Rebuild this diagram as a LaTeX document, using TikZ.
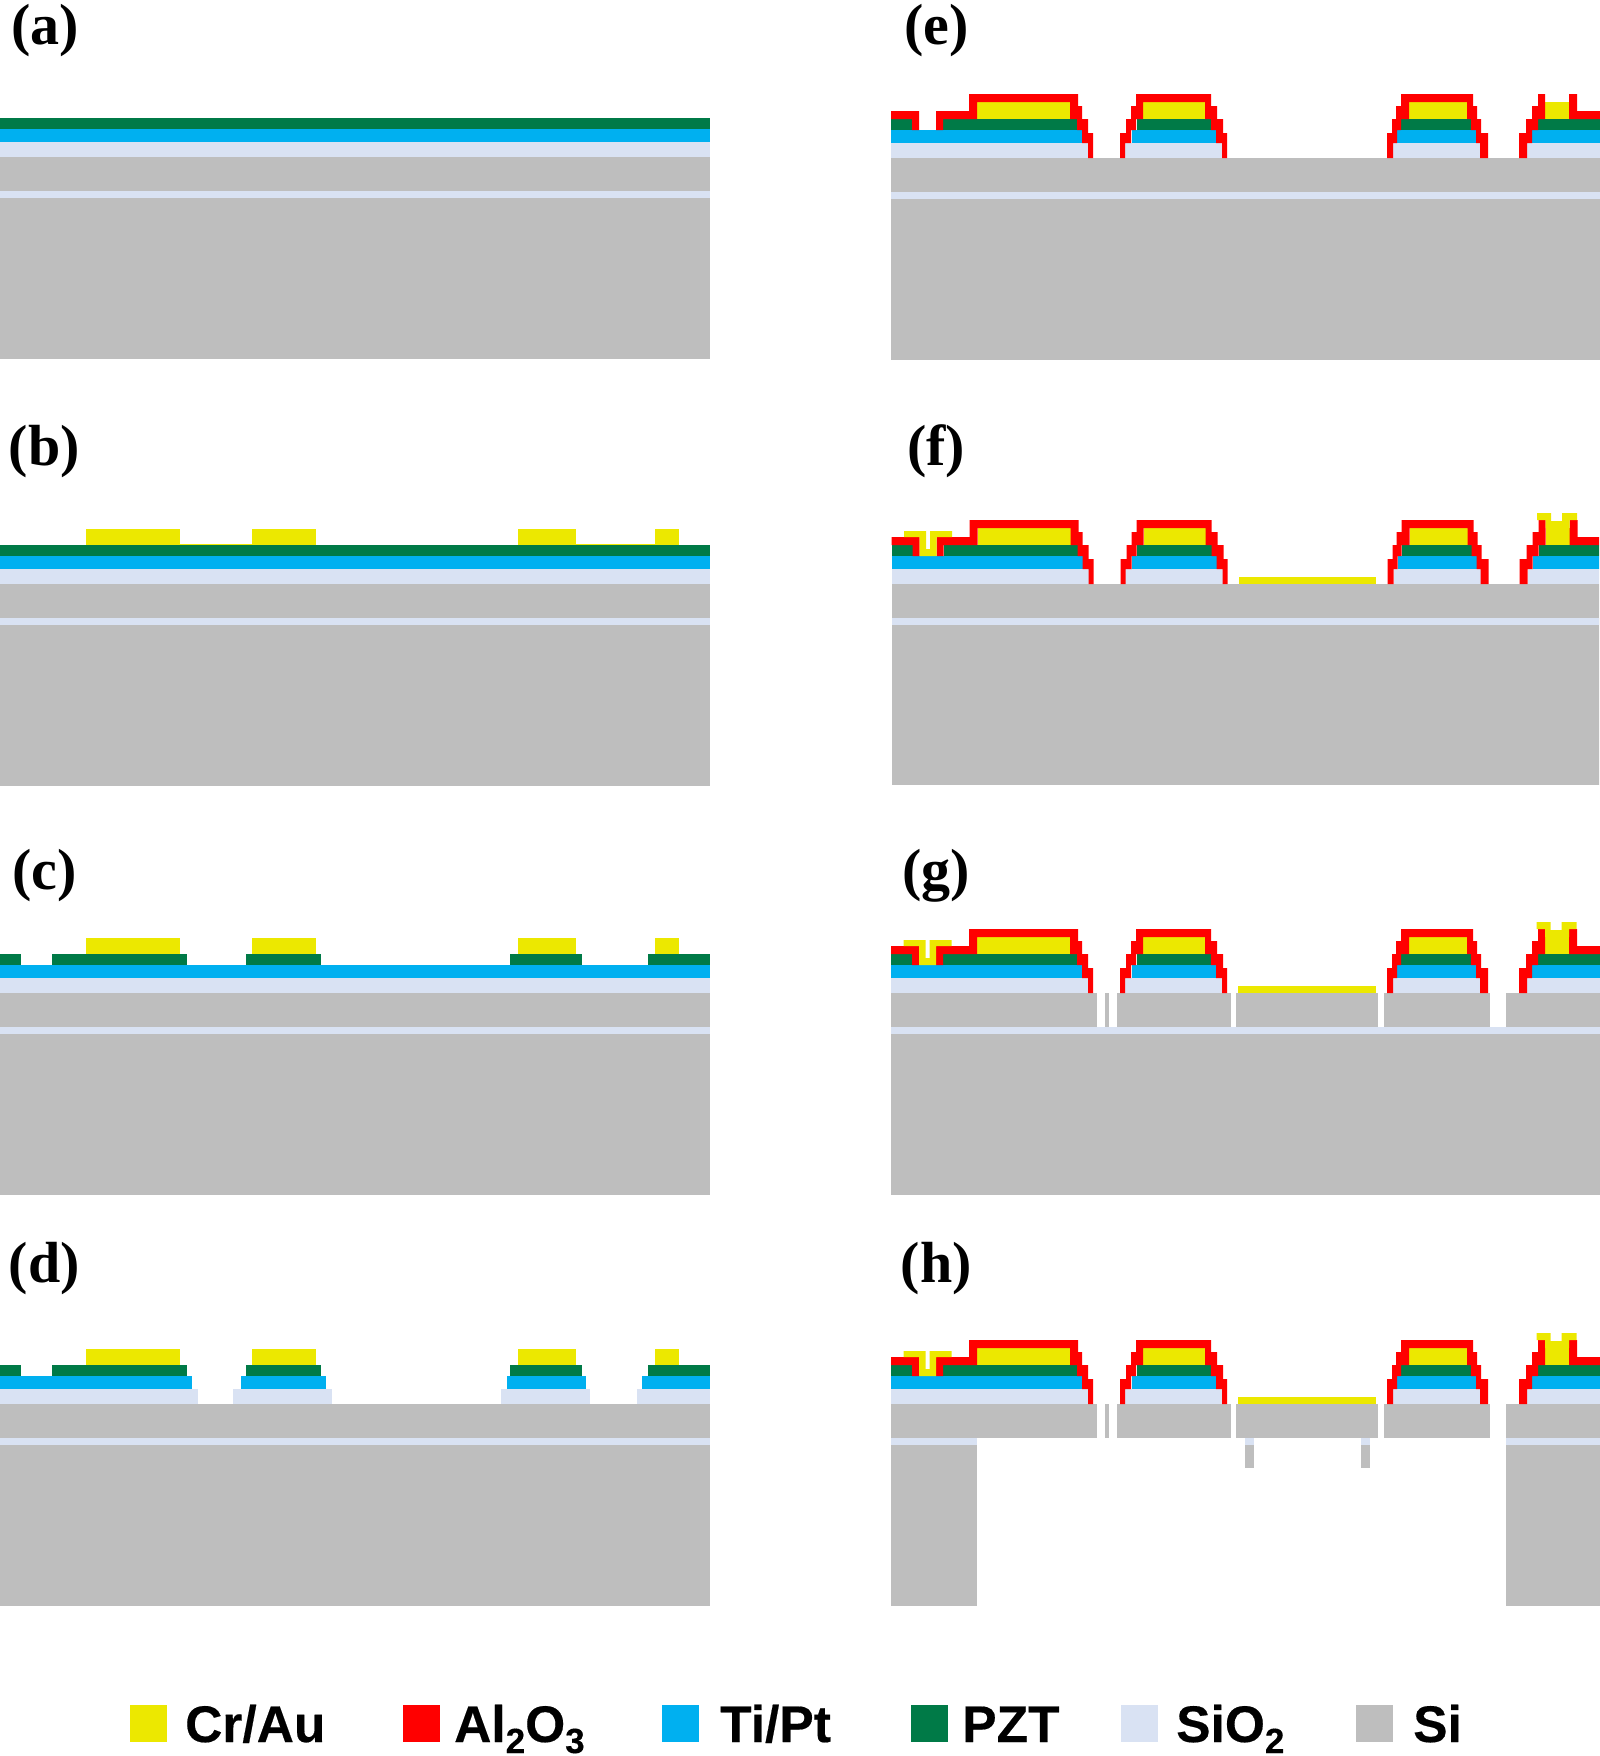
\documentclass[tikz,border=0pt]{standalone}
\usepackage{fontspec}
\setmainfont{Liberation Serif}
\newfontfamily\legfont{Liberation Sans}[BoldFont={Liberation Sans Bold},BoldFeatures={FakeBold=0.35}]
\definecolor{cau}{HTML}{ECE800}
\definecolor{alo}{HTML}{FF0000}
\definecolor{tipt}{HTML}{00B0F0}
\definecolor{pzt}{HTML}{007A47}
\definecolor{sio}{HTML}{D9E2F3}
\definecolor{sil}{HTML}{BEBEBE}
\tikzset{
  panellabel/.style={anchor=base west,inner sep=0pt,font=\fontsize{58}{58}\selectfont\bfseries},
  legendtext/.style={anchor=base west,inner sep=0pt,font=\legfont\fontsize{51.5}{51.5}\selectfont\bfseries},
  swatch/.style={minimum width=37pt,minimum height=37pt,inner sep=0pt,anchor=north west,draw=none}
}
% rectangle in the current panel: colour, x1, y1, x2, y2 (y relative to Si top)
\newcommand{\bx}[5]{\fill[#1] (#2,#3) rectangle (#4,#5);}
% base of a panel: Si, thin SiO2, Si, across the panel width
\newcommand{\basewafer}[3]{%
  \bx{sil}{#1}{0}{#2}{#3}%
  \bx{sio}{#1}{34}{#2}{41}}
% left panels
\newcommand{\yellowpads}{%
  \bx{cau}{86}{-55}{180}{-39}\bx{cau}{251.5}{-55}{316}{-39}%
  \bx{cau}{518}{-55}{575.5}{-39}\bx{cau}{654.5}{-55}{679}{-39}}
\newcommand{\greenpads}{%
  \bx{pzt}{0}{-39}{21}{-28}\bx{pzt}{52}{-39}{187}{-28}%
  \bx{pzt}{245.5}{-39}{321}{-28}\bx{pzt}{510}{-39}{582}{-28}\bx{pzt}{648}{-39}{710}{-28}}
% right panels: layer stacks and Al2O3 shell
\newcommand{\rightstack}{%
  \bx{sio}{891}{-15}{1088}{0}\bx{sio}{1124.5}{-15}{1222}{0}\bx{sio}{1393}{-15}{1480}{0}\bx{sio}{1527}{-15}{1600}{0}%
  \bx{tipt}{891}{-28}{1082}{-15}\bx{tipt}{1131.5}{-28}{1216}{-15}\bx{tipt}{1397}{-28}{1476}{-15}\bx{tipt}{1532}{-28}{1600}{-15}%
  \bx{pzt}{891}{-39}{912}{-28}\bx{pzt}{943}{-39}{1078}{-28}\bx{pzt}{1136.5}{-39}{1211}{-28}\bx{pzt}{1401}{-39}{1471}{-28}\bx{pzt}{1538}{-39}{1600}{-28}%
  \bx{cau}{977}{-56}{1070}{-39}\bx{cau}{1143}{-56}{1205}{-39}\bx{cau}{1409}{-56}{1467}{-39}\bx{cau}{1545}{-56}{1569}{-39}%
  \fill[alo] (891,-47)--(919,-47)--(919,-28)--(912,-28)--(912,-39)--(891,-39)--cycle;
  \fill[alo] (936,-28)--(936,-47)--(969,-47)--(969,-64)--(1078,-64)--(1078,-52)--(1082,-52)--(1082,-39)--(1088,-39)--(1088,-25)--(1093,-25)--(1093,0)--(1088,0)--(1088,-15)--(1082,-15)--(1082,-28)--(1077,-28)--(1077,-39)--(1070,-39)--(1070,-56)--(977,-56)--(977,-39)--(943,-39)--(943,-28)--cycle;
  \fill[alo] (1120,0)--(1120,-25)--(1126,-25)--(1126,-39)--(1131,-39)--(1131,-52)--(1136,-52)--(1136,-64)--(1211,-64)--(1211,-52)--(1217,-52)--(1217,-39)--(1223,-39)--(1223,-25)--(1227,-25)--(1227,0)--(1222,0)--(1222,-15)--(1216,-15)--(1216,-28)--(1211,-28)--(1211,-39)--(1205,-39)--(1205,-56)--(1143,-56)--(1143,-39)--(1136,-39)--(1136,-28)--(1131,-28)--(1131,-15)--(1125,-15)--(1125,0)--cycle;
  \fill[alo] (1387,0)--(1387,-25)--(1392,-25)--(1392,-39)--(1396,-39)--(1396,-52)--(1401,-52)--(1401,-64)--(1473,-64)--(1473,-52)--(1477,-52)--(1477,-39)--(1481,-39)--(1481,-25)--(1488,-25)--(1488,0)--(1480,0)--(1480,-15)--(1476,-15)--(1476,-28)--(1471,-28)--(1471,-39)--(1467,-39)--(1467,-56)--(1409,-56)--(1409,-39)--(1401,-39)--(1401,-28)--(1397,-28)--(1397,-15)--(1393,-15)--(1393,0)--cycle;
  \fill[alo] (1519,0)--(1519,-25)--(1526,-25)--(1526,-39)--(1532,-39)--(1532,-52)--(1538,-52)--(1538,-64)--(1545,-64)--(1545,-39)--(1538,-39)--(1538,-28)--(1532,-28)--(1532,-15)--(1527,-15)--(1527,0)--cycle;
  \fill[alo] (1569,-64)--(1577,-64)--(1577,-47)--(1600,-47)--(1600,-39)--(1569,-39)--cycle;}
% gold added in panels f, g, h
\newcommand{\goldextras}{%
  \fill[cau] (903.5,-53)--(925.5,-53)--(925.5,-35)--(929.5,-35)--(929.5,-53)--(951.5,-53)--(951.5,-47)--(936,-47)--(936,-28)--(919,-28)--(919,-47)--(903.5,-47)--cycle;
  \fill[cau] (1536.5,-71)--(1550.5,-71)--(1550.5,-63)--(1561.5,-63)--(1561.5,-71)--(1576.5,-71)--(1576.5,-64)--(1569,-64)--(1569,-56)--(1545,-56)--(1545,-64)--(1536.5,-64)--cycle;
  \bx{cau}{1238}{-7}{1375.5}{0}}
% trenched Si device layer for panels g, h
\newcommand{\siblocks}{%
  \bx{sil}{891}{0}{1097}{34}\bx{sil}{1104.5}{0}{1108.5}{34}\bx{sil}{1116.5}{0}{1231}{34}%
  \bx{sil}{1236}{0}{1378}{34}\bx{sil}{1383.5}{0}{1490}{34}\bx{sil}{1506}{0}{1600}{34}}
\begin{document}
\begin{tikzpicture}[x=1pt,y=-1pt]
\useasboundingbox (0,0) rectangle (1600,1756);
% (a)
\begin{scope}[shift={(0,157)}]
  \basewafer{0}{710}{201.5}
  \bx{sio}{0}{-15}{710}{0}\bx{tipt}{0}{-28}{710}{-15}\bx{pzt}{0}{-39}{710}{-28}
\end{scope}
% (b)
\begin{scope}[shift={(0,584)}]
  \basewafer{0}{709.5}{201.5}
  \bx{sio}{0}{-15}{709.5}{0}\bx{tipt}{0}{-28}{709.5}{-15}\bx{pzt}{0}{-39}{709.5}{-28}
  \yellowpads
  \bx{cau}{180}{-40}{252}{-39}\bx{cau}{575.5}{-40}{655}{-39}
\end{scope}
% (c)
\begin{scope}[shift={(0,993)}]
  \basewafer{0}{710}{202}
  \bx{sio}{0}{-15}{710}{0}\bx{tipt}{0}{-28}{710}{-15}
  \greenpads\yellowpads
\end{scope}
% (d)
\begin{scope}[shift={(0,1404)}]
  \basewafer{0}{710}{202}
  \bx{sio}{0}{-15}{197.5}{0}\bx{sio}{233}{-15}{332}{0}\bx{sio}{501}{-15}{590}{0}\bx{sio}{636.5}{-15}{710}{0}
  \bx{tipt}{0}{-28}{191.5}{-15}\bx{tipt}{241}{-28}{326}{-15}\bx{tipt}{506.5}{-28}{586}{-15}\bx{tipt}{642}{-28}{710}{-15}
  \greenpads\yellowpads
\end{scope}
% (e)
\begin{scope}[shift={(0,158)}]
  \basewafer{891}{1600}{201.5}
  \rightstack
\end{scope}
% (f)
\begin{scope}
  \clip (891,400) rectangle (1599,800);
  \begin{scope}[shift={(0.6,584)}]
    \basewafer{891}{1600}{200.5}
    \rightstack\goldextras
  \end{scope}
\end{scope}
% (g)
\begin{scope}[shift={(0,993)}]
  \siblocks
  \bx{sio}{891}{34}{1600}{41}\bx{sil}{891}{41}{1600}{201.5}
  \rightstack\goldextras
\end{scope}
% (h)
\begin{scope}[shift={(0,1404)}]
  \siblocks
  \bx{sio}{891}{34}{977}{41}\bx{sil}{891}{41}{977}{201.5}
  \bx{sio}{1506}{34}{1600}{41}\bx{sil}{1506}{41}{1600}{201.5}
  \bx{sio}{1245}{34}{1254}{41}\bx{sil}{1245}{41}{1254}{64}
  \bx{sio}{1361}{34}{1370}{41}\bx{sil}{1361}{41}{1370}{64}
  \rightstack\goldextras
\end{scope}
% panel labels
\node[panellabel] (la) at (11,44) {(a)};
\node[panellabel] (lb) at (8.5,465) {(b)};
\node[panellabel] (lc) at (12,889) {(c)};
\node[panellabel] (ld) at (8.5,1282) {(d)};
\node[panellabel] (le) at (904,44) {(e)};
\node[panellabel] (lf) at (907,465) {(f)};
\node[panellabel] (lg) at (902,889) {(g)};
\node[panellabel] (lh) at (900.5,1282) {(h)};
% legend
\node[swatch,fill=cau]  (s1) at (130,1705) {};
\node[swatch,fill=alo]  (s2) at (403,1705) {};
\node[swatch,fill=tipt] (s3) at (662,1705) {};
\node[swatch,fill=pzt]  (s4) at (911,1705) {};
\node[swatch,fill=sio]  (s5) at (1121,1705) {};
\node[swatch,fill=sil]  (s6) at (1356,1705) {};
\newcommand{\lowsub}[1]{\raisebox{-11pt}{\fontsize{35}{35}\selectfont #1}}
\node[legendtext] (t1) at (185,1742) {Cr/Au};
\node[legendtext] (t2) at (454,1742) {Al\lowsub{2}O\lowsub{3}};
\node[legendtext] (t3) at (720,1742) {Ti/Pt};
\node[legendtext] (t4) at (962,1742) {PZT};
\node[legendtext] (t5) at (1176,1742) {SiO\lowsub{2}};
\node[legendtext] (t6) at (1413,1742) {Si};
\end{tikzpicture}
\end{document}
